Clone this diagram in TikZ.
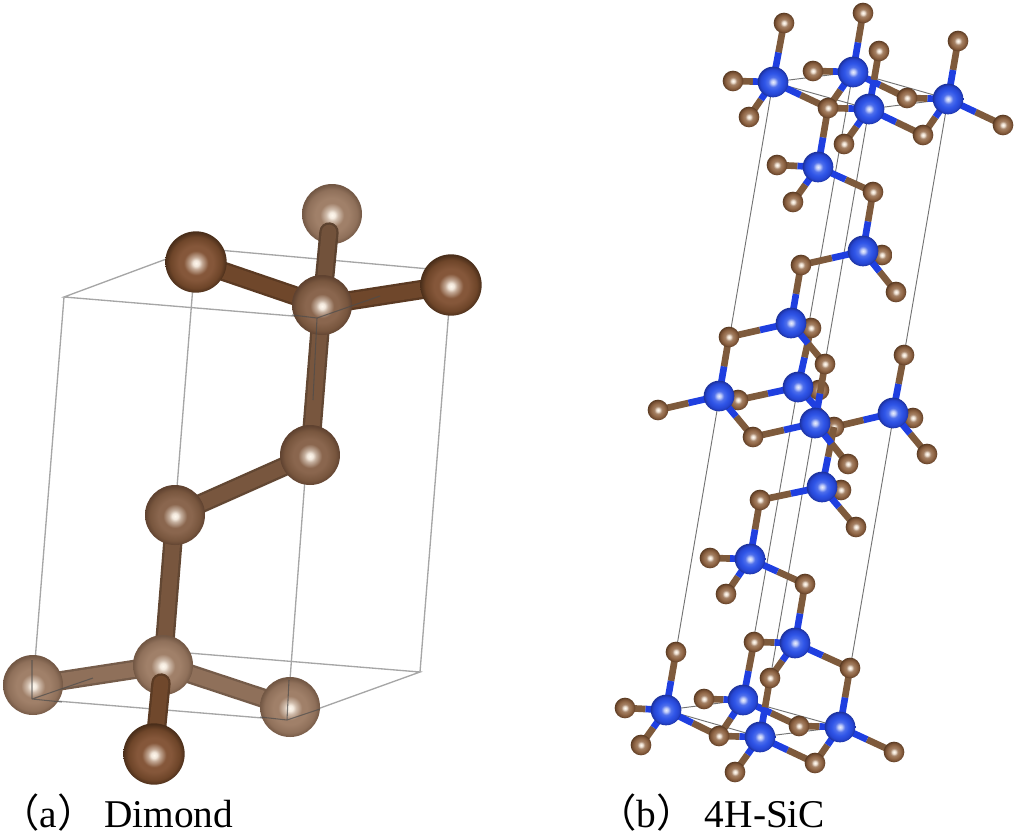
\documentclass[tikz,border=0pt]{standalone}
\usepackage{fontspec}
\setmainfont{Liberation Serif}
\newfontfamily\cjkfont{Noto Sans CJK SC}
\usetikzlibrary{calc}
\pgfdeclarelayer{L0}\pgfdeclarelayer{L1}\pgfdeclarelayer{L2}\pgfdeclarelayer{L3}
\pgfdeclarelayer{L4}\pgfdeclarelayer{L5}\pgfdeclarelayer{L6}
\pgfsetlayers{L0,L1,L2,L3,L4,L5,L6,main}
\definecolor{hlw}{HTML}{FFF8EE}
\definecolor{cdkA}{HTML}{85573A}\definecolor{cdkB}{HTML}{6E4529}\definecolor{cdkC}{HTML}{4A2E1A}
\pgfdeclareradialshading{cdark}{\pgfpoint{0bp}{-1bp}}{
 color(0bp)=(hlw); color(2.5bp)=(hlw!88!cdkA); color(5bp)=(hlw!50!cdkA); color(10bp)=(cdkA);
 color(14bp)=(cdkA); color(21bp)=(cdkB); color(25bp)=(cdkC); color(50bp)=(cdkC)}
\definecolor{cmidA}{HTML}{8A664E}\definecolor{cmidB}{HTML}{78563E}\definecolor{cmidC}{HTML}{5F4230}
\pgfdeclareradialshading{cmid}{\pgfpoint{0bp}{-1bp}}{
 color(0bp)=(hlw); color(2.5bp)=(hlw!88!cmidA); color(5bp)=(hlw!50!cmidA); color(10bp)=(cmidA);
 color(14bp)=(cmidA); color(21bp)=(cmidB); color(25bp)=(cmidC); color(50bp)=(cmidC)}
\definecolor{clitA}{HTML}{A08069}\definecolor{clitB}{HTML}{8F705A}\definecolor{clitC}{HTML}{725744}
\pgfdeclareradialshading{clit}{\pgfpoint{0bp}{-1bp}}{
 color(0bp)=(hlw); color(2.5bp)=(hlw!88!clitA); color(5bp)=(hlw!50!clitA); color(10bp)=(clitA);
 color(14bp)=(clitA); color(21bp)=(clitB); color(25bp)=(clitC); color(50bp)=(clitC)}
\definecolor{csmA}{HTML}{956C4C}\definecolor{csmB}{HTML}{7A5235}\definecolor{csmC}{HTML}{593A22}
\pgfdeclareradialshading{csmall}{\pgfpoint{0bp}{0bp}}{
 color(0bp)=(hlw); color(4bp)=(hlw!85!csmA); color(9bp)=(csmA!85!white);
 color(15bp)=(csmA); color(21bp)=(csmB); color(25bp)=(csmC); color(50bp)=(csmC)}
\definecolor{siA}{HTML}{3056E8}\definecolor{siB}{HTML}{2544D0}\definecolor{siC}{HTML}{1C319B}
\pgfdeclareradialshading{sishade}{\pgfpoint{0bp}{0bp}}{
 color(0bp)=(white!88!siA); color(3bp)=(white!72!siA); color(8bp)=(white!15!siA);
 color(14bp)=(siA); color(21bp)=(siB); color(25bp)=(siC); color(50bp)=(siC)}
\definecolor{bluebond}{HTML}{1F3FE0}
\definecolor{brownbond}{HTML}{7E5A3C}
\tikzset{
 atomdark/.style={circle,inner sep=0pt,minimum size=46pt,shading=cdark},
 atommid/.style={circle,inner sep=0pt,minimum size=45pt,shading=cmid},
 atomlit/.style={circle,inner sep=0pt,minimum size=45pt,shading=clit},
 atomc/.style={circle,inner sep=0pt,minimum size=15.5pt,shading=csmall},
 atomsi/.style={circle,inner sep=0pt,minimum size=23pt,shading=sishade},
 halfblue/.style={draw=bluebond,line width=5pt},
 halfbrown/.style={draw=brownbond,line width=5pt},
 celllight/.style={draw=black!35,line width=1pt},
 cellthin/.style={draw=black!55,line width=.7pt},
 cellover/.style={draw=black!70,line width=.8pt,opacity=.7},
 caption/.style={anchor=base west,inner sep=0pt,font=\fontsize{29.5}{32}\selectfont},
}
\newcommand{\siatom}[4]{\begin{pgfonlayer}{#1}\node[atomsi] (#2) at (#3,#4) {};\end{pgfonlayer}}
\newcommand{\catom}[4]{\begin{pgfonlayer}{#1}\node[atomc] (#2) at (#3,#4) {};\end{pgfonlayer}}
\newcommand{\bondsc}[3]{\begin{pgfonlayer}{#1}
 \draw[halfbrown] ($(#2.center)!.5!(#3.center)$) -- (#3.center);
 \draw[halfblue] (#2.center) -- ($(#2.center)!.5!(#3.center)$);\end{pgfonlayer}}
\newcommand{\fatbond}[4][butt]{\draw[line width=14.5pt,draw=#4!82!black,line cap=#1] (#2.center) -- (#3.center);
 \draw[line width=11pt,draw=#4,line cap=#1] (#2.center) -- (#3.center);}
\begin{document}
\begin{tikzpicture}[x=.75pt,y=-.75pt]
\useasboundingbox (0,0) rectangle (1016,835);
% ===== (a) diamond cell =====
\coordinate (tfl) at (64,297); \coordinate (tbl) at (196,248); \coordinate (tbr) at (452,271); \coordinate (tfr) at (317,318);
\coordinate (bfl) at (32,699); \coordinate (bbl) at (164,651); \coordinate (bbr) at (420,672); \coordinate (bfr) at (287,720);
\begin{pgfonlayer}{L0}
\draw[celllight] (tfl) -- (tbl) -- (tbr) -- (tfr) -- cycle;
\draw[celllight] (bfl) -- (bbl) -- (bbr) -- (bfr) -- cycle;
\draw[celllight] (tfl) -- (bfl) (tbl) -- (bbl) (tbr) -- (bbr) (tfr) -- (bfr);
\end{pgfonlayer}
% atoms of (a)
\begin{pgfonlayer}{L1}\node[atomlit] (atop) at (332,214) {};\end{pgfonlayer}
\begin{pgfonlayer}{L3}
\node[atomdark] (atl) at (196,262) {};
\node[atomdark] (ari) at (451,285) {};
\node[atommid] (acn) at (322,305) {};
\node[atommid] (am1) at (310,455) {};
\node[atommid] (am2) at (175,515) {};
\node[atomlit] (acb) at (163,665) {};
\node[atomlit] (abl) at (33,685) {};
\node[atomlit] (abr) at (290,707) {};
\end{pgfonlayer}
\begin{pgfonlayer}{L5}\node[atomdark] (abt) at (154,754) {};\end{pgfonlayer}
\coordinate (topend) at (329,232);
\coordinate (botend) at (161,683);
\begin{pgfonlayer}{L2}
\fatbond[round]{acn}{topend}{cmidB!95!black}
\fatbond{acn}{atl}{cdkB!90!cmidB}
\fatbond{acn}{ari}{cdkB!90!cmidB}
\fatbond{acn}{am1}{cmidB}
\fatbond{am1}{am2}{cmidB}
\fatbond{am2}{acb}{cmidB}
\fatbond{acb}{abl}{clitB}
\fatbond{acb}{abr}{clitB}
\end{pgfonlayer}
\begin{pgfonlayer}{L4}
\fatbond[round]{botend}{abt}{cdkB!85!cmidB}
\end{pgfonlayer}
% cell lines showing through the pale atoms
\coordinate (o1) at (93,678); \coordinate (o2) at (32,660); \coordinate (o3) at (62,702);
\coordinate (o4) at (289,680); \coordinate (o5) at (260,717); \coordinate (o6) at (320,709);
\coordinate (o7) at (380,296); \coordinate (o8) at (292,315); \coordinate (o9) at (313,400);
\begin{pgfonlayer}{L6}
\draw[cellover] (bfl) -- (o1) (bfl) -- (o2) (bfl) -- (o3);
\draw[cellover] (bfr) -- (o4) (bfr) -- (o5) (bfr) -- (o6);
\draw[cellover] (tfr) -- (o7) (tfr) -- (o8) (tfr) -- (o9);
\end{pgfonlayer}
% ===== (b) 4H-SiC: back carbons =====
\catom{L2}{cp}{882}{255}\catom{L2}{cs}{811}{328}\catom{L2}{cx}{738}{400}\catom{L2}{cy}{819}{390}
\catom{L2}{da}{834}{427}\catom{L2}{db}{913}{418}\catom{L2}{de}{841}{490}
% ordinary carbons
\catom{L4}{ca}{784}{23}\catom{L4}{cb}{863}{13}\catom{L4}{cd}{958}{41}\catom{L4}{ce}{733}{81}
\catom{L4}{cf}{813}{71}\catom{L4}{ch}{907}{98}\catom{L4}{ci}{749}{117}\catom{L4}{cl}{1003}{125}
\catom{L4}{cm}{777}{165}\catom{L4}{cn}{793}{202}\catom{L4}{co}{873}{192}\catom{L4}{cq}{801}{265}
\catom{L4}{cr}{896}{292}\catom{L4}{ct}{729}{337}\catom{L4}{cv}{904}{355}\catom{L4}{cw}{658}{410}
\catom{L4}{dc}{927}{454}\catom{L4}{df}{760}{500}\catom{L4}{dg}{856}{527}\catom{L4}{dh}{710}{558}
\catom{L4}{di}{726}{594}\catom{L4}{dj}{805}{584}\catom{L4}{dk}{754}{642}\catom{L4}{dl}{850}{668}
\catom{L4}{dn}{676}{652}\catom{L4}{do}{625}{708}\catom{L4}{dp}{704}{699}\catom{L4}{dq}{799}{726}
\catom{L4}{ds}{641}{745}\catom{L4}{dv}{894}{752}
% carbons in front
\catom{L6}{cc}{879}{51}\catom{L6}{cg}{828}{108}\catom{L6}{cj}{844}{144}\catom{L6}{ck}{923}{135}
\catom{L6}{cu}{825}{364}\catom{L6}{cz}{753}{437}\catom{L6}{dd}{848}{464}\catom{L6}{dm}{770}{678}
\catom{L6}{dr}{719}{736}\catom{L6}{dt}{735}{772}\catom{L6}{du}{815}{763}
% silicon
\siatom{L4}{s1}{773}{82}\siatom{L4}{s2}{853}{72}\siatom{L6}{s3}{869}{109}\siatom{L4}{s4}{948}{99}
\siatom{L4}{s5}{818}{167}\siatom{L4}{s6}{863}{251}\siatom{L4}{s7}{791}{323}\siatom{L4}{s8}{798}{387}
\siatom{L6}{s9}{815}{423}\siatom{L4}{s10}{719}{396}\siatom{L4}{s11}{893}{413}\siatom{L4}{s12}{822}{487}
\siatom{L4}{s13}{750}{559}\siatom{L4}{s14}{795}{643}\siatom{L4}{s15}{743}{700}\siatom{L4}{s16}{666}{710}
\siatom{L6}{s17}{760}{737}\siatom{L4}{s18}{840}{727}
% cell of (b)
\begin{pgfonlayer}{L0}
\draw[cellthin] (s1.center) -- (s16.center) (s2.center) -- (s15.center) (s3.center) -- (s17.center) (s4.center) -- (s18.center);
\end{pgfonlayer}
\begin{pgfonlayer}{L3}
\draw[cellthin] (s1.center) -- (s2.center) -- (s4.center) -- (s3.center) -- cycle;
\draw[cellthin] (s16.center) -- (s15.center) -- (s18.center) -- (s17.center) -- cycle;
\end{pgfonlayer}
% bonds
\bondsc{L3}{s1}{ca}\bondsc{L3}{s1}{ce}\bondsc{L3}{s1}{ci}\bondsc{L3}{s1}{cg}
\bondsc{L3}{s2}{cb}\bondsc{L3}{s2}{cf}\bondsc{L3}{s2}{ch}\bondsc{L3}{s2}{cg}
\bondsc{L5}{s3}{cc}\bondsc{L5}{s3}{cg}\bondsc{L5}{s3}{cj}\bondsc{L5}{s3}{ck}
\bondsc{L3}{s4}{cd}\bondsc{L3}{s4}{ch}\bondsc{L3}{s4}{ck}\bondsc{L3}{s4}{cl}
\bondsc{L3}{s5}{cg}\bondsc{L3}{s5}{cm}\bondsc{L3}{s5}{cn}\bondsc{L3}{s5}{co}
\bondsc{L3}{s6}{co}\bondsc{L3}{s6}{cq}\bondsc{L1}{s6}{cp}\bondsc{L3}{s6}{cr}
\bondsc{L3}{s7}{cq}\bondsc{L3}{s7}{ct}\bondsc{L1}{s7}{cs}\bondsc{L3}{s7}{cu}
\bondsc{L1}{s8}{cs}\bondsc{L1}{s8}{cx}\bondsc{L1}{s8}{cy}\bondsc{L1}{s8}{da}
\bondsc{L5}{s9}{cu}\bondsc{L5}{s9}{cz}\bondsc{L1}{s9}{da}\bondsc{L5}{s9}{dd}
\bondsc{L3}{s10}{ct}\bondsc{L3}{s10}{cw}\bondsc{L1}{s10}{cx}\bondsc{L3}{s10}{cz}
\bondsc{L3}{s11}{cv}\bondsc{L1}{s11}{da}\bondsc{L1}{s11}{db}\bondsc{L3}{s11}{dc}
\bondsc{L3}{s12}{da}\bondsc{L3}{s12}{df}\bondsc{L1}{s12}{de}\bondsc{L3}{s12}{dg}
\bondsc{L3}{s13}{df}\bondsc{L3}{s13}{dh}\bondsc{L3}{s13}{di}\bondsc{L3}{s13}{dj}
\bondsc{L3}{s14}{dj}\bondsc{L3}{s14}{dk}\bondsc{L3}{s14}{dm}\bondsc{L3}{s14}{dl}
\bondsc{L3}{s15}{dk}\bondsc{L3}{s15}{dp}\bondsc{L3}{s15}{dr}\bondsc{L3}{s15}{dq}
\bondsc{L3}{s16}{dn}\bondsc{L3}{s16}{do}\bondsc{L3}{s16}{ds}\bondsc{L3}{s16}{dr}
\bondsc{L5}{s17}{dm}\bondsc{L5}{s17}{dr}\bondsc{L5}{s17}{dt}\bondsc{L5}{s17}{du}
\bondsc{L3}{s18}{dl}\bondsc{L3}{s18}{dq}\bondsc{L3}{s18}{du}\bondsc{L3}{s18}{dv}
% captions
\node[caption] (capa) at (0,827) {{\cjkfont （}a{\cjkfont ）}\hspace{6pt}Dimond};
\node[caption] (capb) at (597,827) {{\cjkfont （}b{\cjkfont ）}\hspace{7pt}4H-SiC};
\end{tikzpicture}
\end{document}
